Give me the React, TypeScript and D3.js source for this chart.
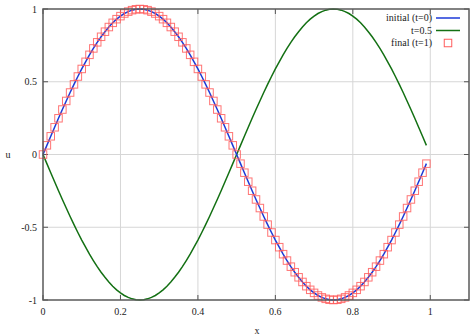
import React from "react";
import * as d3 from "d3";

const xs = [
  0, 0.01, 0.02, 0.03, 0.04, 0.05, 0.06, 0.07, 0.08, 0.09,
  0.1, 0.11, 0.12, 0.13, 0.14, 0.15, 0.16, 0.17, 0.18, 0.19,
  0.2, 0.21, 0.22, 0.23, 0.24, 0.25, 0.26, 0.27, 0.28, 0.29,
  0.3, 0.31, 0.32, 0.33, 0.34, 0.35, 0.36, 0.37, 0.38, 0.39,
  0.4, 0.41, 0.42, 0.43, 0.44, 0.45, 0.46, 0.47, 0.48, 0.49,
  0.5, 0.51, 0.52, 0.53, 0.54, 0.55, 0.56, 0.57, 0.58, 0.59,
  0.6, 0.61, 0.62, 0.63, 0.64, 0.65, 0.66, 0.67, 0.68, 0.69,
  0.7, 0.71, 0.72, 0.73, 0.74, 0.75, 0.76, 0.77, 0.78, 0.79,
  0.8, 0.81, 0.82, 0.83, 0.84, 0.85, 0.86, 0.87, 0.88, 0.89,
  0.9, 0.91, 0.92, 0.93, 0.94, 0.95, 0.96, 0.97, 0.98, 0.99,
];

const initialU = [
  0, 0.063, 0.125, 0.187, 0.249, 0.309, 0.368, 0.426, 0.482, 0.536,
  0.588, 0.637, 0.685, 0.729, 0.771, 0.809, 0.844, 0.876, 0.905, 0.930,
  0.951, 0.969, 0.982, 0.992, 0.998, 1.0, 0.998, 0.992, 0.982, 0.969,
  0.951, 0.930, 0.905, 0.876, 0.844, 0.809, 0.771, 0.729, 0.685, 0.637,
  0.588, 0.536, 0.482, 0.426, 0.368, 0.309, 0.249, 0.187, 0.125, 0.063,
  0, -0.063, -0.125, -0.187, -0.249, -0.309, -0.368, -0.426, -0.482, -0.536,
  -0.588, -0.637, -0.685, -0.729, -0.771, -0.809, -0.844, -0.876, -0.905, -0.930,
  -0.951, -0.969, -0.982, -0.992, -0.998, -1.0, -0.998, -0.992, -0.982, -0.969,
  -0.951, -0.930, -0.905, -0.876, -0.844, -0.809, -0.771, -0.729, -0.685, -0.637,
  -0.588, -0.536, -0.482, -0.426, -0.368, -0.309, -0.249, -0.187, -0.125, -0.063,
];

const halfU = [
  0, -0.063, -0.125, -0.187, -0.249, -0.309, -0.368, -0.426, -0.482, -0.536,
  -0.588, -0.637, -0.685, -0.729, -0.771, -0.809, -0.844, -0.876, -0.905, -0.930,
  -0.951, -0.969, -0.982, -0.992, -0.998, -1.0, -0.998, -0.992, -0.982, -0.969,
  -0.951, -0.930, -0.905, -0.876, -0.844, -0.809, -0.771, -0.729, -0.685, -0.637,
  -0.588, -0.536, -0.482, -0.426, -0.368, -0.309, -0.249, -0.187, -0.125, -0.063,
  0, 0.063, 0.125, 0.187, 0.249, 0.309, 0.368, 0.426, 0.482, 0.536,
  0.588, 0.637, 0.685, 0.729, 0.771, 0.809, 0.844, 0.876, 0.905, 0.930,
  0.951, 0.969, 0.982, 0.992, 0.998, 1.0, 0.998, 0.992, 0.982, 0.969,
  0.951, 0.930, 0.905, 0.876, 0.844, 0.809, 0.771, 0.729, 0.685, 0.637,
  0.588, 0.536, 0.482, 0.426, 0.368, 0.309, 0.249, 0.187, 0.125, 0.063,
];

const finalU = [
  0, 0.063, 0.125, 0.187, 0.249, 0.309, 0.368, 0.426, 0.482, 0.536,
  0.588, 0.637, 0.685, 0.729, 0.771, 0.809, 0.844, 0.876, 0.905, 0.930,
  0.951, 0.969, 0.982, 0.992, 0.998, 1.0, 0.998, 0.992, 0.982, 0.969,
  0.951, 0.930, 0.905, 0.876, 0.844, 0.809, 0.771, 0.729, 0.685, 0.637,
  0.588, 0.536, 0.482, 0.426, 0.368, 0.309, 0.249, 0.187, 0.125, 0.063,
  0, -0.063, -0.125, -0.187, -0.249, -0.309, -0.368, -0.426, -0.482, -0.536,
  -0.588, -0.637, -0.685, -0.729, -0.771, -0.809, -0.844, -0.876, -0.905, -0.930,
  -0.951, -0.969, -0.982, -0.992, -0.998, -1.0, -0.998, -0.992, -0.982, -0.969,
  -0.951, -0.930, -0.905, -0.876, -0.844, -0.809, -0.771, -0.729, -0.685, -0.637,
  -0.588, -0.536, -0.482, -0.426, -0.368, -0.309, -0.249, -0.187, -0.125, -0.063,
];

const xTicks = [0, 0.2, 0.4, 0.6, 0.8, 1];
const xTickLabels = ["0", "0.2", "0.4", "0.6", "0.8", "1"];
const yTicks = [-1, -0.5, 0, 0.5, 1];
const yTickLabels = ["-1", "-0.5", "0", "0.5", "1"];
const seriesNames = ["initial (t=0)", "t=0.5", "final (t=1)"];

const W = 474;
const H = 336;
const L = 43;
const R = 469;
const T = 9;
const B = 300;

const BLUE = "#1c3ad8";
const GREEN = "#137013";
const RED = "#ff5c5c";
const FONT = "'Liberation Serif', 'DejaVu Serif', serif";

export default function App() {
  const x = d3.scaleLinear().domain([0, 1.1]).range([L, R]);
  const y = d3.scaleLinear().domain([-1, 1]).range([B, T]);

  const line = (vals: number[]) =>
    d3
      .line<number>()
      .x((_, i) => x(xs[i]))
      .y((d) => y(d))
      .curve(d3.curveLinear)(vals) || "";

  const sq = 7.5;

  return (
    <svg
      width={W}
      height={H}
      style={{ position: "absolute", left: 0, top: 0, background: "#fff" }}
      fontFamily={FONT}
    >
      {/* grid */}
      {xTicks.slice(1).map((t) => (
        <line key={"gx" + t} x1={x(t)} x2={x(t)} y1={T} y2={B} stroke="#d6d6d6" strokeWidth={1} />
      ))}
      {yTicks.slice(1, -1).map((t) => (
        <line key={"gy" + t} x1={L} x2={R} y1={y(t)} y2={y(t)} stroke="#d6d6d6" strokeWidth={1} />
      ))}

      {/* ticks */}
      {xTicks.map((t) => (
        <g key={"tx" + t}>
          <line x1={x(t)} x2={x(t)} y1={B} y2={B - 5} stroke="#555" strokeWidth={1} />
          <line x1={x(t)} x2={x(t)} y1={T} y2={T + 5} stroke="#555" strokeWidth={1} />
        </g>
      ))}
      {yTicks.map((t) => (
        <g key={"ty" + t}>
          <line x1={L} x2={L + 5} y1={y(t)} y2={y(t)} stroke="#555" strokeWidth={1} />
          <line x1={R} x2={R - 5} y1={y(t)} y2={y(t)} stroke="#555" strokeWidth={1} />
        </g>
      ))}

      {/* data */}
      <path d={line(halfU)} fill="none" stroke={GREEN} strokeWidth={1.5} />
      <path d={line(initialU)} fill="none" stroke={BLUE} strokeWidth={1.5} />
      {finalU.map((v, i) => (
        <rect
          key={"s" + i}
          x={x(xs[i]) - sq / 2}
          y={y(v) - sq / 2}
          width={sq}
          height={sq}
          fill="none"
          stroke={RED}
          strokeOpacity={0.85}
          strokeWidth={1}
        />
      ))}

      {/* border */}
      <rect x={L} y={T} width={R - L} height={B - T} fill="none" stroke="#5a5a5a" strokeWidth={1.5} />

      {/* tick labels */}
      {xTicks.map((t, i) => (
        <text key={"lx" + t} x={x(t)} y={315} textAnchor="middle" fontSize={10} fill="#222">
          {xTickLabels[i]}
        </text>
      ))}
      {yTicks.map((t, i) => (
        <text key={"ly" + t} x={37} y={y(t) + 3.5} textAnchor="end" fontSize={10} fill="#222">
          {yTickLabels[i]}
        </text>
      ))}

      {/* axis labels */}
      <text x={257} y={334} textAnchor="middle" fontSize={10} fill="#222">x</text>
      <text x={8} y={158} textAnchor="middle" fontSize={10} fill="#222">u</text>

      {/* legend */}
      <text x={432} y={21} textAnchor="end" fontSize={10} fill="#222">{seriesNames[0]}</text>
      <line x1={436} x2={460} y1={18} y2={18} stroke={BLUE} strokeWidth={1.5} />
      <text x={432} y={34} textAnchor="end" fontSize={10} fill="#222">{seriesNames[1]}</text>
      <line x1={436} x2={460} y1={30.5} y2={30.5} stroke={GREEN} strokeWidth={1.5} />
      <text x={432} y={46} textAnchor="end" fontSize={10} fill="#222">{seriesNames[2]}</text>
      <rect x={448 - sq / 2} y={43 - sq / 2} width={sq} height={sq} fill="none" stroke={RED} strokeWidth={1} />
    </svg>
  );
}
